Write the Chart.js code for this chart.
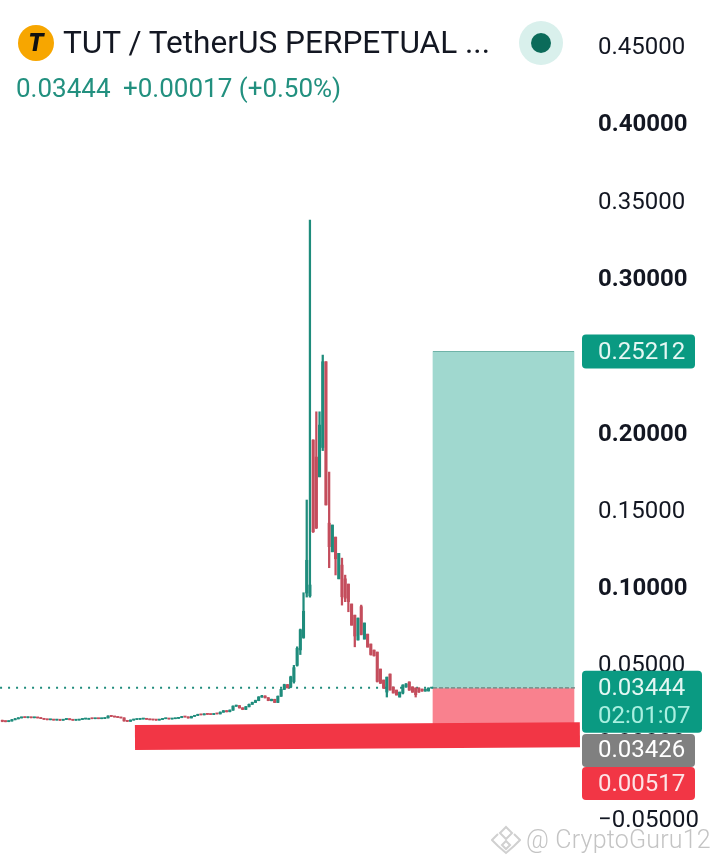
<!DOCTYPE html>
<html>
<head>
<meta charset="utf-8">
<title>TUT / TetherUS PERPETUAL</title>
<script src="https://cdn.jsdelivr.net/npm/chart.js@4"></script>
<style>
	html, body { margin: 0; padding: 0; background: #fff; }
	#wrap { position: relative; width: 719px; height: 865px; overflow: hidden; font-family: Roboto, sans-serif; }
	#wrap canvas { position: absolute; left: 0; top: 0; }
	.txt { position: absolute; white-space: nowrap; }
	#logo { position: absolute; left: 18px; top: 25px; width: 36px; height: 36px; border-radius: 50%; background: #f7a600; color: #111; font: italic 900 25px/36px Roboto, sans-serif; text-align: center; }
	#title { left: 63px; top: 25px; font-size: 31.6px; line-height: 36px; color: #131722; }
	#price { left: 16px; top: 73px; font-size: 26px; line-height: 30px; color: #22907f; }
	#change { left: 123px; top: 73px; font-size: 26px; line-height: 30px; color: #22907f; }
	#dotOuter { position: absolute; left: 519px; top: 21px; width: 44px; height: 44px; border-radius: 50%; background: #d9f0ec; }
	#dotInner { position: absolute; left: 531px; top: 33px; width: 20px; height: 20px; border-radius: 50%; background: #0b6b5a; }
	#mark { left: 526px; top: 825px; font-size: 25px; line-height: 30px; font-weight: 300; color: #c4c4c4; letter-spacing: 0.2px; }
	#markIcon { position: absolute; left: 491px; top: 825px; }
</style>
</head>
<body>
<div id="wrap">
	<canvas id="chart" width="719" height="865"></canvas>
	<div id="logo">T</div>
	<div id="title" class="txt">TUT / TetherUS PERPETUAL ...</div>
	<div id="price" class="txt">0.03444</div>
	<div id="change" class="txt">+0.00017 (+0.50%)</div>
	<div id="dotOuter"></div>
	<div id="dotInner"></div>
	<svg id="markIcon" width="30" height="30" viewBox="0 0 30 30" fill="none" stroke="#d0d0d0" stroke-width="2">
		<path d="M15 2 L21 8 L15 14 L9 8 Z"/><path d="M7 9 L1 15 L7 21 L15 28 L23 21 L29 15 L23 9"/><path d="M15 16 L19 20 L15 24 L11 20 Z"/>
	</svg>
	<div id="mark" class="txt">@ CryptoGuru12</div>
</div>
<script>
// Velas, una por cada posicion del eje x
const opens = [
	.0134, .0128, .0126, .0130, .0138, .0144, .0150, .0154, .0152, .0153,
	.0151, .0152, .0150, .0146, .0141, .0138, .0139, .0136, .0137, .0135,
	.0140, .0143, .0139, .0135, .0136, .0140, .0143, .0146, .0146, .0145,
	.0146, .0145, .0146, .0150, .0162, .0160, .0156, .0153, .0150, .0130,
	.0128, .0136, .0140, .0141, .0143, .0144, .0141, .0138, .0137, .0136,
	.0140, .0145, .0146, .0143, .0145, .0147, .0152, .0158, .0156, .0150,
	.0160, .0166, .0172, .0170, .0176, .0173, .0172, .0177, .0176, .0187,
	.0196, .0190, .0200, .0226, .0229, .0215, .0205, .0222, .0238, .0250,
	.0262, .0285, .0292, .0280, .0262, .0270, .0250, .0290, .0335, .0365,
	.0350, .0385, .0490, .0590, .0670, .0958, .0940, .1948, .1838, .1710,
	.1900, .2455, .1410, .1225, .1320, .1050, .1139, .1050, .1016, .0887,
	.0815, .0654, .0870, .0660, .0692, .0628, .0589, .0576, .0466, .0395,
	.0317, .0434, .0350, .0330, .0285, .0311, .0350, .0382, .0350, .0343,
	.0343, .0336, .0324, .0325, .0343
]
const highs = [
	.0136, .0131, .0132, .0140, .0146, .0152, .0156, .0156, .0155, .0155,
	.0154, .0154, .0151, .0147, .0142, .0141, .0140, .0138, .0138, .0141,
	.0145, .0144, .0140, .0137, .0141, .0145, .0147, .0148, .0147, .0147,
	.0147, .0147, .0151, .0164, .0163, .0161, .0157, .0154, .0151, .0132,
	.0137, .0142, .0142, .0144, .0146, .0145, .0142, .0139, .0138, .0141,
	.0146, .0148, .0147, .0146, .0148, .0153, .0160, .0159, .0157, .0161,
	.0167, .0174, .0173, .0177, .0177, .0174, .0178, .0179, .0189, .0198,
	.0198, .0202, .0228, .0233, .0230, .0216, .0224, .0240, .0252, .0265,
	.0288, .0296, .0293, .0282, .0272, .0271, .0292, .0338, .0368, .0367,
	.0420, .0490, .0610, .0725, .0960, .1560, .3372, .1950, .2131, .2131,
	.2498, .2455, .1741, .1398, .1320, .1215, .1184, .1074, .1016, .0887,
	.0815, .0796, .0880, .0764, .0692, .0628, .0589, .0576, .0466, .0395,
	.0414, .0434, .0350, .0330, .0317, .0365, .0372, .0384, .0352, .0345,
	.0345, .0337, .0337, .0345, .0346
]
const lows = [
	.0125, .0124, .0125, .0129, .0137, .0143, .0149, .0151, .0150, .0150,
	.0150, .0149, .0145, .0140, .0137, .0137, .0135, .0135, .0133, .0134,
	.0139, .0137, .0134, .0134, .0135, .0139, .0142, .0145, .0144, .0144,
	.0144, .0144, .0145, .0149, .0158, .0155, .0152, .0149, .0129, .0126,
	.0127, .0135, .0139, .0140, .0142, .0140, .0137, .0136, .0134, .0135,
	.0139, .0144, .0142, .0142, .0144, .0146, .0151, .0155, .0148, .0149,
	.0159, .0165, .0169, .0169, .0172, .0171, .0171, .0175, .0175, .0186,
	.0188, .0189, .0199, .0224, .0213, .0203, .0204, .0221, .0237, .0249,
	.0261, .0283, .0279, .0261, .0260, .0249, .0249, .0289, .0333, .0343,
	.0345, .0375, .0485, .0560, .0665, .0932, .0932, .1350, .1375, .1710,
	.1880, .1528, .1122, .1225, .1075, .1050, .0880, .0902, .0837, .0750,
	.0610, .0654, .0687, .0660, .0608, .0556, .0550, .0382, .0372, .0340,
	.0285, .0330, .0311, .0298, .0285, .0305, .0348, .0328, .0315, .0285,
	.0315, .0322, .0322, .0323, .0342
]
const closes = [
	.0128, .0126, .0130, .0138, .0144, .0150, .0154, .0152, .0153, .0151,
	.0152, .0150, .0146, .0141, .0138, .0139, .0136, .0137, .0135, .0140,
	.0143, .0139, .0135, .0136, .0140, .0143, .0146, .0146, .0145, .0146,
	.0145, .0146, .0150, .0162, .0160, .0156, .0153, .0150, .0130, .0128,
	.0136, .0140, .0141, .0143, .0144, .0141, .0138, .0137, .0136, .0140,
	.0145, .0146, .0143, .0145, .0147, .0152, .0158, .0156, .0150, .0160,
	.0166, .0172, .0170, .0176, .0173, .0172, .0177, .0176, .0187, .0196,
	.0190, .0200, .0226, .0229, .0215, .0205, .0222, .0238, .0250, .0262,
	.0285, .0292, .0280, .0262, .0270, .0250, .0290, .0335, .0365, .0345,
	.0415, .0475, .0600, .0720, .0840, .1170, .1010, .1355, .1380, .2045,
	.2455, .1528, .1258, .1398, .1180, .1215, .0934, .0925, .0902, .0750,
	.0680, .0796, .0690, .0764, .0608, .0560, .0552, .0386, .0375, .0343,
	.0414, .0330, .0311, .0298, .0317, .0362, .0370, .0330, .0317, .0300,
	.0317, .0324, .0336, .0343, .03444
]

// Marcas de precio de la posicion y etiquetas del eje
const lastPrice = 0.03444
const targetPrice = 0.25212
const stopPrice = 0.00517
const tickValues = [0.45, 0.4, 0.35, 0.3, 0.25, 0.2, 0.15, 0.1, 0.05, 0, -0.05]
const boldTicks = [0.4, 0.3, 0.2, 0.1]
const bandX = [41.4, 180.25]
const bandY = [0.00226, 0.00407]
const boxX = 156.4

const upColor = '#1f8c7c'
const downColor = '#c44d5c'

const candleIndex = closes.map((c, i) => i)

function candleColor(ctx) {
	const i = ctx.dataIndex
	return closes[i] >= opens[i] ? upColor : downColor
}

// Etiquetas de precio encima del eje
function drawTag(ctx, x, y, w, h, color, rows) {
	ctx.fillStyle = color
	ctx.beginPath()
	ctx.roundRect(x, y, w, h, 4)
	ctx.fill()
	ctx.font = '24px Roboto'
	ctx.textAlign = 'left'
	ctx.textBaseline = 'middle'
	rows.forEach((row) => {
		ctx.fillStyle = row.color
		ctx.fillText(row.text, x + 16, row.y)
	})
}

const tagsPlugin = {
	id: 'tags',
	afterDraw(chart) {
		const ctx = chart.ctx
		const yScale = chart.scales.y
		const top = yScale.getPixelForValue(targetPrice)
		const last = yScale.getPixelForValue(lastPrice)
		ctx.save()
		drawTag(ctx, 582, top - 17, 113, 34, '#0a9a82', [
			{ text: targetPrice.toFixed(5), color: '#e4f7f3', y: top + 1 },
		])
		drawTag(ctx, 582, 767, 113, 33, '#f23645', [
			{ text: stopPrice.toFixed(5), color: '#fde3e6', y: 785 },
		])
		drawTag(ctx, 582, 734, 113, 33, '#808080', [
			{ text: '0.03426', color: '#ffffff', y: 751 },
		])
		drawTag(ctx, 582, last - 17, 120, 62, '#0a9a82', [
			{ text: lastPrice.toFixed(5), color: '#e4f7f3', y: last + 1 },
			{ text: '02:01:07', color: '#a9efe0', y: last + 29 },
		])
		ctx.restore()
	},
}

const chart = new Chart(document.getElementById('chart'), {
	data: {
		datasets: [
			{
				type: 'line',
				data: bandX.map((x, i) => ({ x: x, y: bandY[i] })),
				borderColor: '#f23645',
				borderWidth: 25,
				borderCapStyle: 'butt',
				pointRadius: 0,
				order: 1,
			},
			{
				type: 'bar',
				data: candleIndex.map((i) => ({ x: i, y: [opens[i], closes[i]] })),
				backgroundColor: candleColor,
				barThickness: 2.4,
				minBarLength: 1,
				grouped: false,
				order: 2,
			},
			{
				type: 'bar',
				data: candleIndex.map((i) => ({ x: i, y: [lows[i], highs[i]] })),
				backgroundColor: candleColor,
				barThickness: 1.6,
				grouped: false,
				order: 3,
			},
			{
				// linea de precio sobre la caja
				type: 'line',
				data: [{ x: 134.4, y: lastPrice }, { x: 179.3, y: lastPrice }],
				borderColor: '#6f7f7c',
				borderWidth: 1.3,
				borderDash: [4, 2],
				pointRadius: 0,
				order: 4,
			},
			{
				type: 'line',
				data: [{ x: 134.4, y: targetPrice }, { x: 178.4, y: targetPrice }],
				borderColor: '#6fb3a8',
				borderWidth: 1.2,
				pointRadius: 0,
				order: 4,
			},
			{
				type: 'bar',
				data: [{ x: boxX, y: [targetPrice, lastPrice] }],
				backgroundColor: '#a0d8cf',
				barThickness: 141,
				grouped: false,
				order: 5,
			},
			{
				type: 'bar',
				data: [{ x: boxX, y: [lastPrice, stopPrice] }],
				backgroundColor: '#f9818e',
				barThickness: 141,
				grouped: false,
				order: 5,
			},
			{
				// linea punteada del ultimo precio
				type: 'line',
				data: [{ x: -0.7, y: lastPrice }, { x: 134.4, y: lastPrice }],
				borderColor: '#1f8c7c',
				borderWidth: 2,
				borderDash: [2, 6],
				pointRadius: 0,
				order: 6,
			},
		],
	},
	options: {
		responsive: false,
		animation: false,
		layout: { padding: 0 },
		plugins: { legend: { display: false }, tooltip: { enabled: false } },
		scales: {
			x: {
				type: 'linear',
				min: -0.72,
				max: 183.4,
				offset: false,
				display: false,
			},
			y: {
				position: 'right',
				min: -0.0802,
				max: 0.4796,
				grid: { display: false },
				border: { display: false },
				afterBuildTicks(scale) {
					scale.ticks = tickValues.map((v) => ({ value: v }))
				},
				afterFit(scale) {
					scale.width = 129
					scale.paddingTop = 0
					scale.paddingBottom = 0
				},
				ticks: {
					autoSkip: false,
					padding: 0,
					labelOffset: 2.5,
					crossAlign: 'near',
					color: '#131722',
					font: (ctx) => ({
						family: 'Roboto',
						size: 24,
						weight: ctx.tick && boldTicks.includes(ctx.tick.value) ? 'bold' : 'normal',
					}),
					callback: (value) => (value < 0 ? '\u2212' : '') + Math.abs(value).toFixed(5),
				},
			},
		},
	},
	plugins: [tagsPlugin],
})
</script>
</body>
</html>
